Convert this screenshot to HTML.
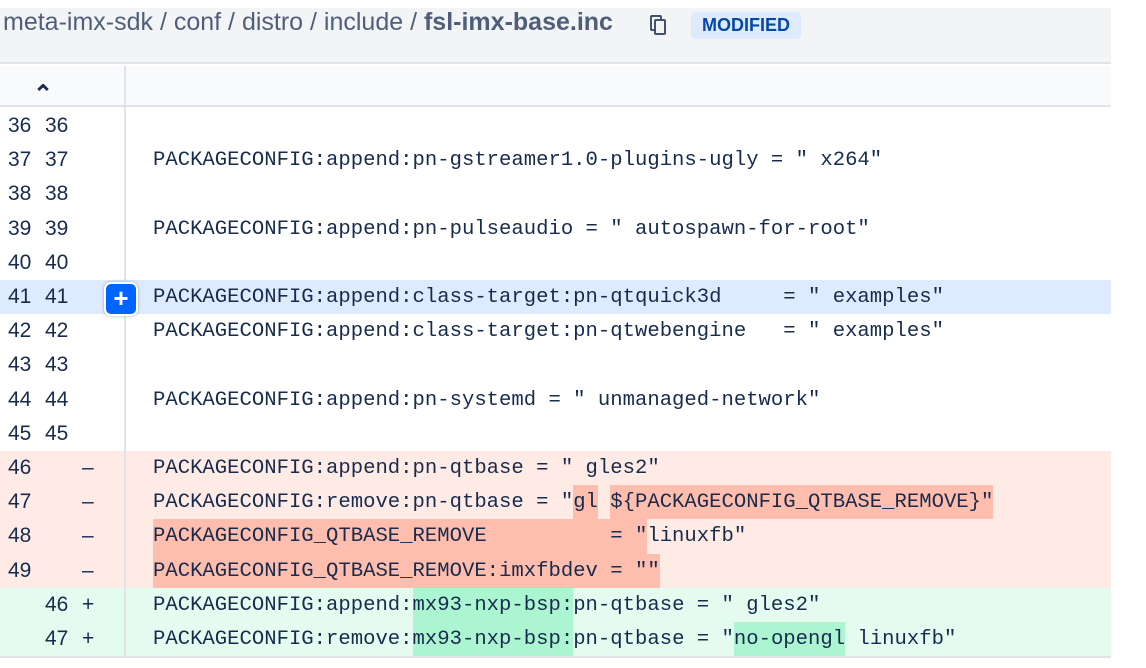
<!DOCTYPE html>
<html><head><meta charset="utf-8"><style>
*{margin:0;padding:0;box-sizing:border-box}
body{width:1146px;height:668px;background:#fff;position:relative;overflow:hidden;font-family:"Liberation Sans",sans-serif}
.hdr{position:absolute;left:0;top:8px;width:1111px;height:56px;background:#f3f4f6;border-bottom:2px solid #e1e3e8}
.path{position:absolute;left:3px;top:0px;font-size:25px;color:#505f79;white-space:nowrap}
.path b{font-weight:bold}
.badge{position:absolute;left:691px;top:4px;width:110px;height:27px;background:#deebff;border-radius:4px;color:#0747a6;font-weight:bold;font-size:18px;line-height:27px;text-align:center}
.copy{position:absolute;left:650px;top:7px;width:12px;height:16px;border:2px solid #42526e;border-radius:2px}
.copy2{position:absolute;left:654px;top:11px;width:12px;height:16px;border:2px solid #42526e;border-radius:2px;background:#f3f4f6}
.sub{position:absolute;left:0;top:66px;width:1111px;height:41px;background:#f9fafb;border-bottom:2px solid #e1e3e8}
.caret{position:absolute;left:33px;top:14px;font-size:24px;color:#172b4d;font-weight:bold}
.vline{position:absolute;left:124px;top:66px;width:2px;height:590px;background:#e1e3e8}
.row{position:absolute;left:0;width:1111px;height:34.2px}
.n{position:absolute;top:5px;font-size:21px;color:#172b4d}
.code{position:absolute;left:153px;top:0;height:34.2px;line-height:36px;font-family:"Liberation Mono",monospace;font-size:20.6px;color:#172b4d;white-space:pre}
.del{background:#ffebe6}.add{background:#e3fcef}.hl{background:#deebff}
.dh{background:#ffbdad;display:inline-block;height:34.2px}
.ah{background:#abf5d1;display:inline-block;height:34.2px}
.plus{position:absolute;left:104px;top:282px;width:34px;height:34px;background:#0065ff;border:2px solid #fff;border-radius:7px;box-shadow:0 0 3px rgba(0,0,0,.3);color:#fff;font-size:26px;font-weight:bold;text-align:center;line-height:29px}
.bot{position:absolute;left:0;top:656px;width:1111px;height:2px;background:#e1e3e8}
</style></head><body>
<div class="hdr">
<div class="path">meta-imx-sdk / conf / distro / include / <b>fsl-imx-base.inc</b></div>
<div class="copy"></div><div class="copy2"></div>
<div class="badge">MODIFIED</div>
</div>
<div class="sub"><div class="caret">&#8963;</div></div>

<div class="row" style="top:109px"><span class="n" style="left:8px">36</span><span class="n" style="left:45px">36</span></div>
<div class="row" style="top:143.2px"><span class="n" style="left:8px">37</span><span class="n" style="left:45px">37</span><div class="code">PACKAGECONFIG:append:pn-gstreamer1.0-plugins-ugly = " x264"</div></div>
<div class="row" style="top:177.4px"><span class="n" style="left:8px">38</span><span class="n" style="left:45px">38</span></div>
<div class="row" style="top:211.6px"><span class="n" style="left:8px">39</span><span class="n" style="left:45px">39</span><div class="code">PACKAGECONFIG:append:pn-pulseaudio = " autospawn-for-root"</div></div>
<div class="row" style="top:245.8px"><span class="n" style="left:8px">40</span><span class="n" style="left:45px">40</span></div>
<div class="row hl" style="top:280px"><span class="n" style="left:8px">41</span><span class="n" style="left:45px">41</span><div class="code">PACKAGECONFIG:append:class-target:pn-qtquick3d     = " examples"</div></div>
<div class="row" style="top:314.2px"><span class="n" style="left:8px">42</span><span class="n" style="left:45px">42</span><div class="code">PACKAGECONFIG:append:class-target:pn-qtwebengine   = " examples"</div></div>
<div class="row" style="top:348.4px"><span class="n" style="left:8px">43</span><span class="n" style="left:45px">43</span></div>
<div class="row" style="top:382.6px"><span class="n" style="left:8px">44</span><span class="n" style="left:45px">44</span><div class="code">PACKAGECONFIG:append:pn-systemd = " unmanaged-network"</div></div>
<div class="row" style="top:416.8px"><span class="n" style="left:8px">45</span><span class="n" style="left:45px">45</span></div>
<div class="row del" style="top:451px"><span class="n" style="left:8px">46</span><span class="n" style="left:82px">–</span><div class="code">PACKAGECONFIG:append:pn-qtbase = " gles2"</div></div>
<div class="row del" style="top:485.2px"><span class="n" style="left:8px">47</span><span class="n" style="left:82px">–</span><div class="code">PACKAGECONFIG:remove:pn-qtbase = "<span class="dh">gl</span> <span class="dh">${PACKAGECONFIG_QTBASE_REMOVE}"</span></div></div>
<div class="row del" style="top:519.4px"><span class="n" style="left:8px">48</span><span class="n" style="left:82px">–</span><div class="code"><span class="dh">PACKAGECONFIG_QTBASE_REMOVE          = "</span>linuxfb"</div></div>
<div class="row del" style="top:553.6px"><span class="n" style="left:8px">49</span><span class="n" style="left:82px">–</span><div class="code"><span class="dh">PACKAGECONFIG_QTBASE_REMOVE:imxfbdev = ""</span></div></div>
<div class="row add" style="top:587.8px"><span class="n" style="left:45px">46</span><span class="n" style="left:82px">+</span><div class="code">PACKAGECONFIG:append:<span class="ah">mx93-nxp-bsp:</span>pn-qtbase = " gles2"</div></div>
<div class="row add" style="top:622px"><span class="n" style="left:45px">47</span><span class="n" style="left:82px">+</span><div class="code">PACKAGECONFIG:remove:<span class="ah">mx93-nxp-bsp:</span>pn-qtbase = "<span class="ah">no-opengl</span> linuxfb"</div></div>
<div class="vline"></div>
<div class="bot"></div>
<div class="plus">+</div>
</body></html>
